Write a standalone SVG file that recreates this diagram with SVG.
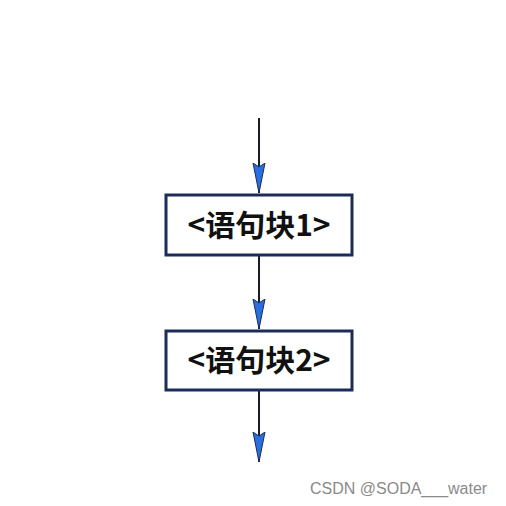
<svg xmlns="http://www.w3.org/2000/svg" width="506" height="506" viewBox="0 0 506 506">
<style>
.box{fill:#ffffff;stroke:#1c2c5a;stroke-width:3}
.lbl{font-family:"Noto Sans CJK SC","Noto Sans",sans-serif;font-weight:bold;font-size:30px;fill:#111;text-anchor:middle}
.edge{stroke:#1a1a2a;stroke-width:2;fill:none}
.wm{font-family:"Liberation Sans",Arial,sans-serif;font-size:16px;fill:#8a8a8a}
</style>
<defs>
<marker id="ah" markerUnits="userSpaceOnUse" markerWidth="32" markerHeight="14" refX="30" refY="7" orient="auto" viewBox="0 0 32 14">
<path d="M0,1 L4,7 L0,13 L30,7 Z" fill="#2a6fe0" stroke="#1c2c5a" stroke-width="1"/>
</marker>
</defs>
<rect width="506" height="506" fill="#ffffff"/>
<g id="connectors">
<line class="edge" x1="259" y1="118" x2="259" y2="193" marker-end="url(#ah)"/>
<line class="edge" x1="259" y1="256" x2="259" y2="329" marker-end="url(#ah)"/>
<line class="edge" x1="259" y1="391" x2="259" y2="462" marker-end="url(#ah)"/>
</g>
<g id="node1">
<rect class="box" x="166" y="195" width="186" height="60"/>
<text class="lbl" x="259" y="236">&lt;语句块1&gt;</text>
</g>
<g id="node2">
<rect class="box" x="166" y="331" width="186" height="59"/>
<text class="lbl" x="259" y="371">&lt;语句块2&gt;</text>
</g>
<text class="wm" x="310" y="494">CSDN @SODA___water</text>
</svg>
